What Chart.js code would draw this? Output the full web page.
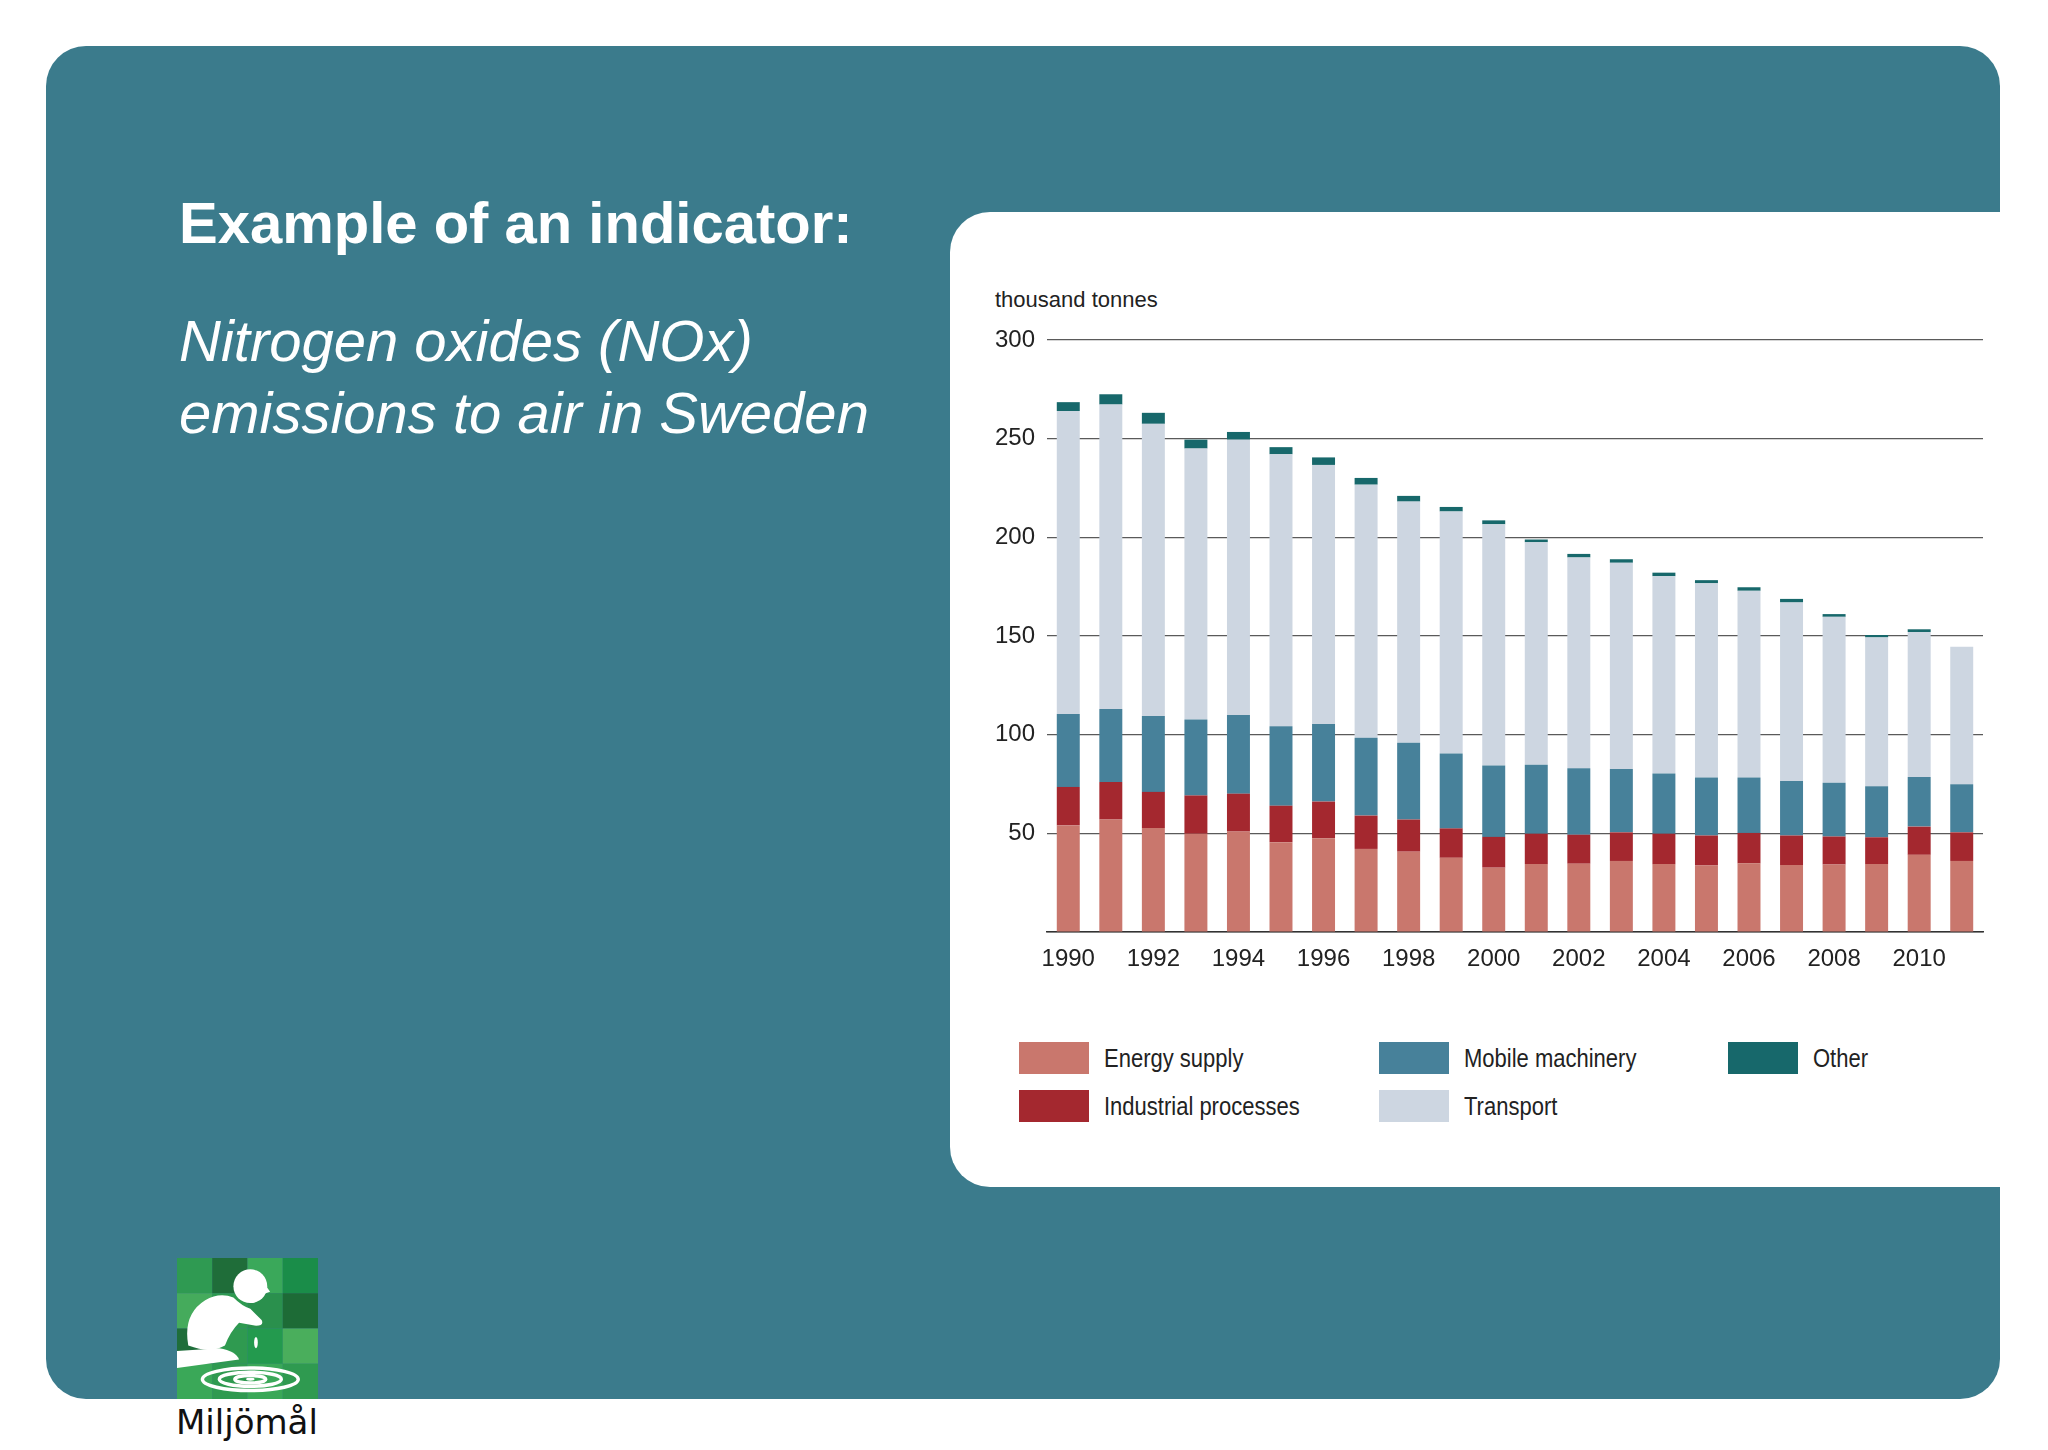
<!DOCTYPE html>
<html>
<head>
<meta charset="utf-8">
<script src="https://cdn.jsdelivr.net/npm/chart.js@4.4.0/dist/chart.umd.min.js"></script>
<style>
  body { margin: 0; width: 2048px; height: 1450px; background: #fff; position: relative; overflow: hidden; font-family: "Liberation Sans", Arial, sans-serif; }
  #slide { position: absolute; left: 46px; top: 46px; width: 1954px; height: 1353px; background: #3b7b8c; border-radius: 40px; }
  #panel { position: absolute; left: 950px; top: 212px; width: 1050px; height: 975px; background: #fff; border-radius: 40px 0 0 40px; }
  .head { position: absolute; left: 179px; color: #fff; font-size: 58px; line-height: 72px; white-space: nowrap; }
  #title { top: 187px; font-weight: bold; }
  #subtitle { top: 305px; font-style: italic; }
  #unit { position: absolute; left: 995px; top: 287px; font-size: 22px; color: #222; }
  #nox { position: absolute; left: 960px; top: 300px; }
  .leg { position: absolute; height: 32px; display: flex; align-items: center; font-size: 25px; color: #222; white-space: nowrap; }
  .leg span.sw { display: inline-block; width: 70px; height: 32px; margin-right: 15px; }
  .leg span.nm { display: inline-block; transform: scaleX(0.88); transform-origin: left center; }
  #logo { position: absolute; left: 176px; top: 1258px; }
  #logoText { position: absolute; left: 176px; top: 1402px; font-family: "DejaVu Sans", sans-serif; font-size: 34px; line-height: 40px; color: #111; }
</style>
</head>
<body>
<div id="slide"></div>
<div id="panel"></div>
<div class="head" id="title">Example of an indicator:</div>
<div class="head" id="subtitle">Nitrogen oxides (NOx)<br>emissions to air in Sweden</div>
<div id="unit">thousand tonnes</div>
<canvas id="nox" width="1040" height="700"></canvas>
<div id="legend"></div>

<svg id="logo" width="143" height="141" viewBox="0 0 100 100">
  <rect x="0" y="0" width="25" height="25" fill="#2f9a52"/>
  <rect x="25" y="0" width="25" height="25" fill="#1f6d39"/>
  <rect x="50" y="0" width="25" height="25" fill="#3aa85a"/>
  <rect x="75" y="0" width="25" height="25" fill="#1a8d49"/>
  <rect x="0" y="25" width="25" height="25" fill="#45ab5c"/>
  <rect x="25" y="25" width="25" height="25" fill="#2e9a50"/>
  <rect x="50" y="25" width="25" height="25" fill="#2a904d"/>
  <rect x="75" y="25" width="25" height="25" fill="#1d6b36"/>
  <rect x="0" y="50" width="25" height="25" fill="#1f6e3a"/>
  <rect x="25" y="50" width="25" height="25" fill="#2f9a50"/>
  <rect x="50" y="50" width="25" height="25" fill="#239a4e"/>
  <rect x="75" y="50" width="25" height="25" fill="#4aae5c"/>
  <rect x="0" y="75" width="25" height="25" fill="#3aa858"/>
  <rect x="25" y="75" width="25" height="25" fill="#2f9a50"/>
  <rect x="50" y="75" width="25" height="25" fill="#3aa858"/>
  <rect x="75" y="75" width="25" height="25" fill="#2f9a50"/>
  <path d="M0 66 L30 64 Q42 66 44 72 L0 78 Z" fill="#fff"/>
  <path d="M8 62 Q4 40 20 30 Q30 24 40 28 Q46 34 52 36 L60 44 Q62 48 56 48 L44 46 Q38 52 34 62 Q24 68 8 62 Z" fill="#fff"/>
  <circle cx="52" cy="20" r="12" fill="#fff"/>
  <path d="M62 18 L66 24 L60 26 Z" fill="#fff"/>
  <ellipse cx="56" cy="60" rx="1.3" ry="4" fill="#fff"/>
  <g fill="none" stroke="#fff" stroke-width="2.4">
    <ellipse cx="52" cy="86" rx="34" ry="8"/>
    <ellipse cx="52" cy="86" rx="22" ry="5"/>
    <ellipse cx="52" cy="86" rx="11" ry="2.6"/>
  </g>
  <ellipse cx="52" cy="86" rx="3" ry="1" fill="#fff"/>
</svg>
<div id="logoText">Miljömål</div>

<script>
const years = ['1990', '1991', '1992', '1993', '1994', '1995', '1996', '1997', '1998', '1999', '2000',
               '2001', '2002', '2003', '2004', '2005', '2006', '2007', '2008', '2009', '2010', '2011'];

const energySupply = [54, 57, 52.7, 49.8, 50.9, 45.5, 47.5, 42.1, 40.7, 37.6, 32.6,
                      34.4, 34.6, 36.0, 34.4, 33.7, 34.8, 33.9, 34.2, 34.4, 39.1, 36.0];
const industrialProcesses = [19.5, 19, 18.3, 19.4, 19.2, 18.5, 18.6, 16.9, 16.3, 14.9, 15.6,
                             15.4, 14.7, 14.5, 15.4, 15.2, 15.4, 15.0, 14.2, 13.6, 14.3, 14.5];
const mobileMachinery = [37, 37, 38.5, 38.5, 39.9, 40.3, 39.3, 39.4, 38.9, 38.0, 36.2,
                         35.0, 33.7, 32.1, 30.5, 29.4, 28.1, 27.6, 27.2, 25.8, 25.1, 24.4];
const transport = [153.5, 154.3, 148, 137.3, 139.5, 137.8, 131.3, 128.3, 122.2, 122.6, 122.2,
                   112.7, 106.8, 104.5, 100.0, 98.4, 94.6, 90.5, 84.1, 75.5, 73.5, 69.7];
const other = [4.5, 5.2, 5.6, 4.5, 3.9, 3.6, 3.8, 3.4, 2.9, 2.3, 2.0,
               1.4, 1.8, 1.8, 1.8, 1.6, 1.8, 1.8, 1.4, 1.2, 1.4, 0];

const seriesNames = ['Energy supply', 'Industrial processes', 'Mobile machinery', 'Transport', 'Other'];
const seriesValues = [energySupply, industrialProcesses, mobileMachinery, transport, other];
const seriesColors = ['#c9776d', '#a4282f', '#47819a', '#cdd6e1', '#17686b'];
const yTicks = [50, 100, 150, 200, 250, 300];

// legend: three columns, filled top to bottom
const legendCols = [1019, 1379, 1728];
const legendRows = [1042, 1090];
let legendHtml = '';
seriesNames.forEach(function (name, i) {
    const col = Math.floor(i / 2), row = i % 2;
    legendHtml += '<div class="leg" style="left:' + legendCols[col] + 'px;top:' + legendRows[row] + 'px">' +
        '<span class="sw" style="background:' + seriesColors[i] + '"></span><span class="nm">' + name + '</span></div>';
});
document.getElementById('legend').innerHTML = legendHtml;

new Chart(document.getElementById('nox'), {
    type: 'bar',
    data: {
        labels: years,
        datasets: seriesValues.map(function (values, i) {
            return {
                label: seriesNames[i],
                data: values,
                backgroundColor: seriesColors[i],
                borderWidth: 0,
                barPercentage: 0.54,
                categoryPercentage: 1
            };
        })
    },
    options: {
        responsive: false,
        animation: false,
        layout: { padding: { left: 0, right: 17, top: 40, bottom: 28 } },
        plugins: {
            legend: { display: false },
            tooltip: { enabled: false }
        },
        scales: {
            x: {
                stacked: true,
                grid: { display: false },
                border: { display: true, color: '#333', width: 1.5 },
                ticks: {
                    autoSkip: false,
                    maxRotation: 0,
                    padding: 5,
                    color: '#222',
                    font: { size: 24, family: 'Liberation Sans' },
                    callback: function (value, index) {
                        return index % 2 === 0 ? this.getLabelForValue(value) : '';
                    }
                },
                afterFit: function (scale) { scale.height = 40; }
            },
            y: {
                stacked: true,
                min: 0,
                max: 300,
                grid: { color: '#5a5a5a', lineWidth: 1.2, drawTicks: false },
                border: { display: false },
                ticks: {
                    stepSize: 50,
                    padding: 12,
                    color: '#222',
                    font: { size: 24, family: 'Liberation Sans' },
                    callback: function (value) {
                        return yTicks.includes(value) ? value : '';
                    }
                },
                afterFit: function (scale) { scale.width = 87; }
            }
        }
    }
});
</script>
</body>
</html>
